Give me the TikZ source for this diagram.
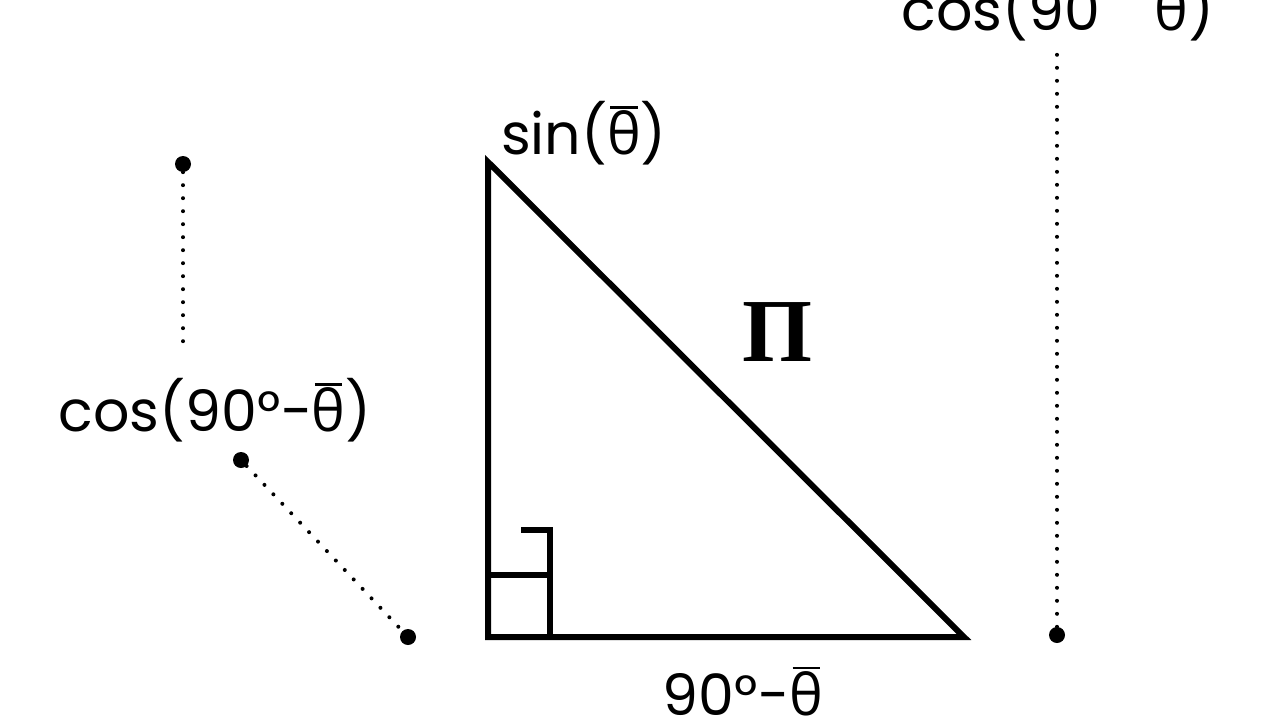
\documentclass[tikz,border=0pt]{standalone}
\usepackage{fontspec}
\setmainfont{Poppins}
\newfontfamily\grk{Open Sans}
\newfontfamily\serifsym{Liberation Serif}
\usetikzlibrary{positioning}
\newcommand{\thb}{\ooalign{{\grk θ}\cr\hidewidth\raisebox{0.8em}{\rule{0.48em}{0.05em}}\hidewidth\cr}}

\begin{document}
\begin{tikzpicture}[x=1pt, y=-1pt,
  lbl/.style={font=\fontsize{57}{62}\selectfont, inner sep=0pt},
  dot/.style={circle, fill=black, inner sep=0pt, minimum size=16pt},
  dots/.style={line width=4pt, line cap=round, dash pattern=on 0pt off 13pt},
  side/.style={line width=6pt, line join=miter}]
  \useasboundingbox (0,0) rectangle (1280,720);
  \coordinate (top) at (488,162);
  \coordinate (rgt) at (488,637);
  \coordinate (bot) at (964,637);
  \draw[side] (top) -- (rgt) -- (bot) -- cycle;
  \draw[side] (rgt) ++(0,-62) -- ++(62,0);
  \draw[side] (rgt) ++(62,0) -- ++(0,-107) -- ++(-29,0);

  \node[lbl] (sin) at (584,133) {sin(\thb)};
  \node[lbl] (cosl) at (215,410) {cos(90°−\thb)};
  \node[lbl, anchor=base] (cosr) at (1058,30) {cos(90\phantom{°−}\thb)};
  \node[lbl, anchor=base] (ang) at (743,715) {90°−\thb};
  \node[font=\serifsym\bfseries\fontsize{90}{90}\selectfont, inner sep=0pt] (hyp) at (777,332) {Π};

  \node[dot] (d1) at (183,164) {};
  \coordinate (d1e) at (183,345);
  \node[dot] (d2) at (241,460) {};
  \node[dot] (d3) at (408,637) {};
  \node[dot] (d4) at (1057,635) {};
  \coordinate (d4e) at (1057,52);

  \path[dots]
  (d1) edge (d1e)
  (d2) edge (d3)
  (d4) edge (d4e);
\end{tikzpicture}
\end{document}
